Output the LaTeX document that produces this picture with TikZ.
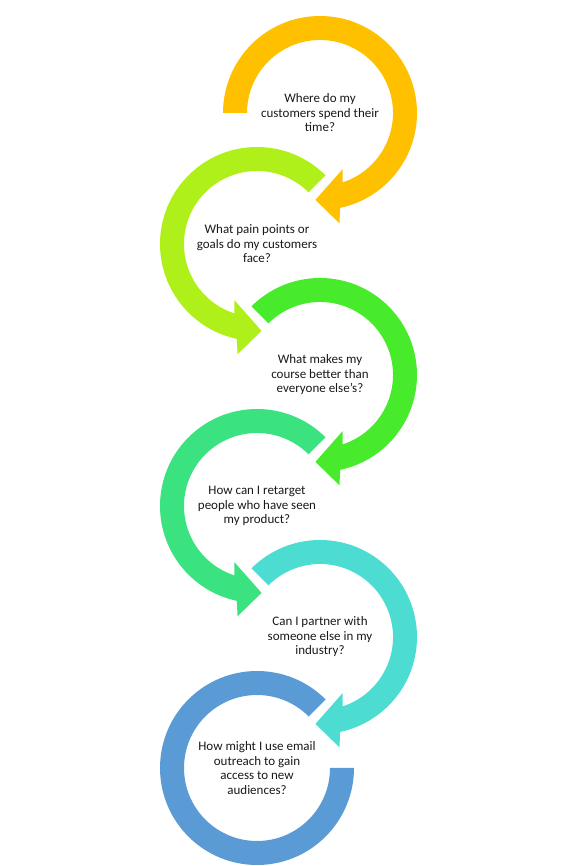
\documentclass[tikz,border=0pt]{standalone}
\usepackage{fontspec}
\setmainfont{Carlito}
\usetikzlibrary{positioning}

\definecolor{ringone}{RGB}{255,192,0}
\definecolor{ringtwo}{RGB}{176,240,26}
\definecolor{ringthree}{RGB}{72,234,44}
\definecolor{ringfour}{RGB}{58,226,128}
\definecolor{ringfive}{RGB}{76,220,210}
\definecolor{ringsix}{RGB}{91,155,213}

\tikzstyle{question} = [align=center, text=black!90, font=\fontsize{13}{14.5}\selectfont]

% clockwise ring with head at the bottom: centre, start angle, colour
\newcommand{\cwring}[3]{%
  \fill[#3, shift={(#1)}] (#2:97) arc[start angle=#2, end angle=-78, radius=97]
    -- (-80:112) -- (-93:87) -- (-68:60.5) -- (-72:73)
    arc[start angle=-72, end angle=#2, radius=73] -- cycle;}
% counter clockwise ring with head at the bottom
\newcommand{\ccwring}[3]{%
  \fill[#3, shift={(#1)}] (#2:97) arc[start angle=#2, end angle=258, radius=97]
    -- (260:112) -- (273:87) -- (248:60.5) -- (252:73)
    arc[start angle=252, end angle=#2, radius=73] -- cycle;}

\begin{document}
\begin{tikzpicture}[x=1pt, y=1pt]
    \useasboundingbox (0,0) rectangle (576,866);

    % Centres
    \coordinate (c1) at (320,753);
    \coordinate (c2) at (257,622);
    \coordinate (c3) at (320,491);
    \coordinate (c4) at (257,360);
    \coordinate (c5) at (320,229);
    \coordinate (c6) at (257,98);

    % Rings
    \cwring{c1}{180}{ringone}
    \ccwring{c2}{45}{ringtwo}
    \cwring{c3}{135}{ringthree}
    \ccwring{c4}{45}{ringfour}
    \cwring{c5}{135}{ringfive}
    \fill[ringsix, shift={(c6)}] (45:97) arc[start angle=45, end angle=360, radius=97]
        -- (0:73) arc[start angle=360, end angle=45, radius=73] -- cycle;

    % Place nodes
    \node [question] (where) at (c1) {Where do my\\customers spend their\\time?};
    \node [question] (pain) at (c2) {What pain points or\\goals do my customers\\face?};
    \node [question] (better) at (c3) {What makes my\\course better than\\everyone else's?};
    \node [question] (retarget) at (c4) {How can I retarget\\people who have seen\\my product?};
    \node [question] (partner) at (c5) {Can I partner with\\someone else in my\\industry?};
    \node [question] (email) at (c6) {How might I use email\\outreach to gain\\access to new\\audiences?};

\end{tikzpicture}
\end{document}
